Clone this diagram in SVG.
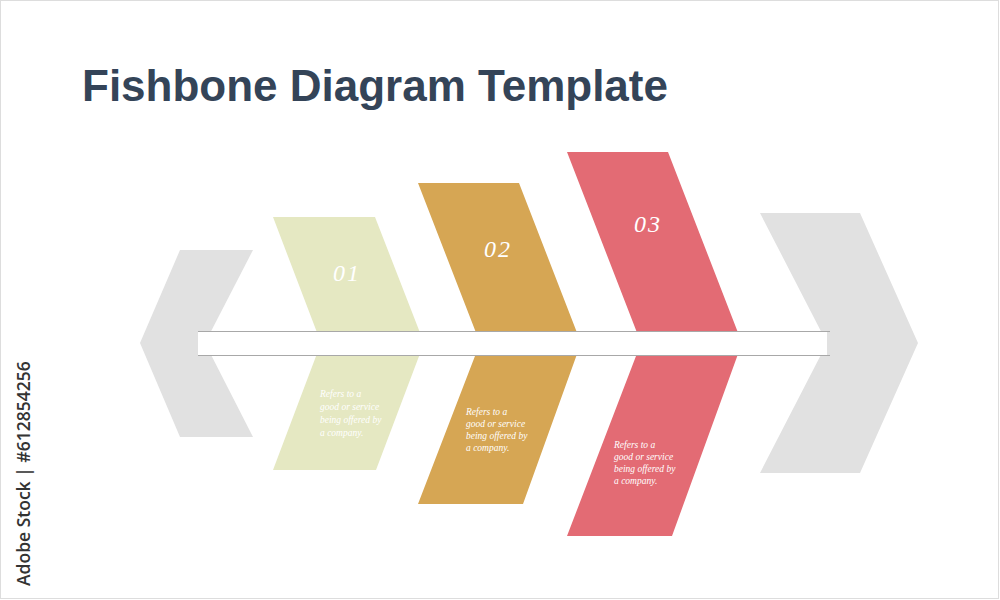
<svg xmlns="http://www.w3.org/2000/svg" width="1000" height="600" viewBox="0 0 1000 600">
  <style>
    .title { font-family: "Liberation Sans", Arial, sans-serif; font-weight: bold; font-size: 44px; fill: #344458; }
    .num { font-family: "Liberation Serif", serif; font-style: italic; font-size: 24px; fill: #ffffff; text-anchor: middle; letter-spacing: 2px; }
    .desc { font-family: "Liberation Serif", serif; font-style: italic; font-size: 9.5px; fill: #ffffff; }
    .chev { fill: #e1e1e1; }
    .spine { stroke: #a8a8a8; stroke-width: 1; fill: none; }
    .wm { font-family: "Open Sans", "Liberation Sans", sans-serif; font-weight: 600; font-size: 17.5px; fill: #333333; }
  </style>
  <rect x="0" y="0" width="1000" height="600" fill="#ffffff"/>
  <rect x="0.5" y="0.5" width="998" height="598" fill="none" stroke="#dddddd" stroke-width="1"/>
  <text class="wm" transform="translate(30,586) rotate(-90)">Adobe Stock | #612854256</text>

  <text class="title" x="82" y="101">Fishbone Diagram Template</text>

  <g id="tail">
    <polygon class="chev" points="180,250 253,250 205,343 253,437 180,437 140,343"/>
  </g>
  <g id="head">
    <polygon class="chev" points="760,213 860,213 918,343 860,473 760,473 827,343"/>
  </g>

  <g id="bone-01">
    <polygon fill="#e5e8c2" points="273,217 375,217 424,343 376,470 273,470 321,343"/>
    <text class="num" x="347" y="281">01</text>
    <text class="desc" x="320" y="397">Refers to a</text>
    <text class="desc" x="320" y="410">good or service</text>
    <text class="desc" x="320" y="423">being offered by</text>
    <text class="desc" x="320" y="436">a company.</text>
  </g>

  <g id="bone-02">
    <polygon fill="#d6a654" points="418,183 519,183 581,343 523,504 418,504 480,343"/>
    <text class="num" x="498" y="257">02</text>
    <text class="desc" x="466" y="415">Refers to a</text>
    <text class="desc" x="466" y="427">good or service</text>
    <text class="desc" x="466" y="439">being offered by</text>
    <text class="desc" x="466" y="451">a company.</text>
  </g>

  <g id="bone-03">
    <polygon fill="#e36b74" points="567,152 668,152 742,343 672,536 567,536 641,343"/>
    <text class="num" x="648" y="232">03</text>
    <text class="desc" x="614" y="448">Refers to a</text>
    <text class="desc" x="614" y="460">good or service</text>
    <text class="desc" x="614" y="472">being offered by</text>
    <text class="desc" x="614" y="484">a company.</text>
  </g>

  <g id="connectors">
    <rect x="198" y="331.5" width="629" height="24" fill="#ffffff"/>
    <line class="spine" x1="198" y1="331.5" x2="830" y2="331.5"/>
    <line class="spine" x1="198" y1="355.5" x2="830" y2="355.5"/>
  </g>
</svg>
